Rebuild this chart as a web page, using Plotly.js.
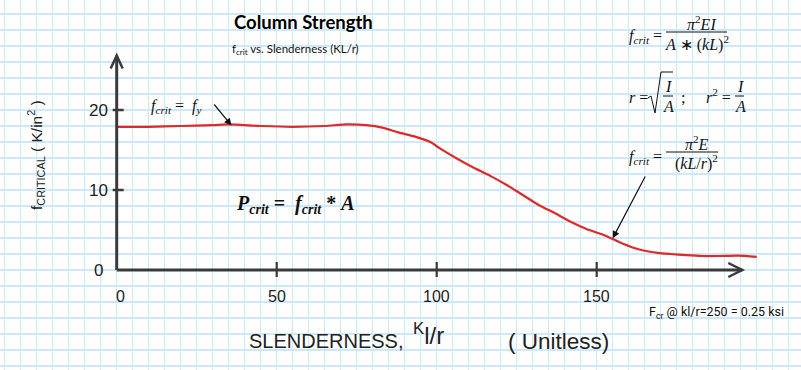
<!DOCTYPE html>
<html><head><meta charset="utf-8">
<script src="https://cdn.plot.ly/plotly-3.0.1.min.js"></script>
<style>html,body{margin:0;padding:0;background:#fff}</style>
</head><body><div id="chart" style="width:801px;height:370px"></div>
<script>
// ---- data ----
const slenderness = [0,10,20,30,35,45,55,65,72,78,83,88,93,98,101,106,111,117,122,126,132,137,142,147,152,157,161,165,169,173,178,183,188,194,200];
const fCrit = [17.9,17.9,18.0,18.1,18.2,18.0,17.9,18.0,18.2,18.1,17.8,17.2,16.7,16.0,15.2,14.0,12.9,11.7,10.6,9.6,8.1,7.1,6.0,5.1,4.4,3.5,2.85,2.4,2.15,2.0,1.85,1.75,1.75,1.8,1.65];
const xTickVals = [50,100,150];
const xLabelVals = [0,50,100,150];
const xLabelText = ['0','50','100','150'];
const yTickVals = [10,20];
const yLabelVals = [0,10,20];
const yLabelText = ['0','10','20'];
const xAxisEnd = 195.5;
const yAxisEnd = 26.8;

// ---- geometry ----
const W = 801, H = 370;
const X0PX = 116.7, Y0PX = 270, SX = 3.2, SY = 8;
const xRange = [-X0PX/SX, (W-X0PX)/SX];
const yRange = [(Y0PX-H)/SY, Y0PX/SY];
const dx = px => (px - X0PX)/SX;
const dy = py => (Y0PX - py)/SY;
const pxp = px => px/W;
const pyp = py => 1 - py/H;

const axisColor = '#3a3a3a';
const hand = 'Liberation Sans, Arial, sans-serif';
const serif = 'Liberation Serif, Times New Roman, serif';

const shapes = [];
// hand-drawn axes
shapes.push({type:'line', xref:'x', yref:'y', x0:0, y0:0, x1:0, y1:yAxisEnd, line:{color:axisColor, width:3}});
shapes.push({type:'line', xref:'x', yref:'y', x0:0, y0:0, x1:xAxisEnd, y1:0, line:{color:axisColor, width:3}});
shapes.push({type:'path', xref:'x', yref:'y',
  path:`M ${-6/SX},${yAxisEnd-13/SY} L 0,${yAxisEnd} L ${6/SX},${yAxisEnd-13/SY}`, line:{color:axisColor, width:2.5}});
shapes.push({type:'path', xref:'x', yref:'y',
  path:`M ${xAxisEnd-14/SX},${7/SY} L ${xAxisEnd},0 L ${xAxisEnd-14/SX},${-7/SY}`, line:{color:axisColor, width:2.5}});
yTickVals.forEach(v => shapes.push({type:'line', xref:'x', yref:'y', x0:-4/SX, x1:7/SX, y0:v, y1:v, line:{color:axisColor, width:2.5}}));
xTickVals.forEach(v => shapes.push({type:'line', xref:'x', yref:'y', x0:v, x1:v, y0:-7/SY, y1:8/SY, line:{color:axisColor, width:2.2}}));

// fraction bars and radical for the formulas
const pline = (x0,y0,x1,y1) => shapes.push({type:'line', xref:'paper', yref:'paper', x0:pxp(x0), y0:pyp(y0), x1:pxp(x1), y1:pyp(y1), line:{color:'#111', width:1}});
pline(666,32,727,32);
pline(663,96,673,96);
pline(735,96,744,96);
pline(666,152,718,152);
shapes.push({type:'path', xref:'paper', yref:'paper',
  path:`M ${pxp(648)},${pyp(98)} L ${pxp(651)},${pyp(96)} L ${pxp(655)},${pyp(113)} L ${pxp(661)},${pyp(72)} L ${pxp(673)},${pyp(72)}`,
  line:{color:'#111', width:1}});

const ann = [];
const P = (px,py,text,font,extra) => ann.push(Object.assign({xref:'paper', yref:'paper', x:pxp(px), y:pyp(py), text:text, showarrow:false, xanchor:'center', yanchor:'middle', font:font}, extra||{}));

// axis tick labels
yLabelVals.forEach((v,i) => ann.push({xref:'x', yref:'y', x:dx(98), y:v, text:yLabelText[i], showarrow:false, xanchor:'center', yanchor:'middle', font:{family:hand, size:17, color:'#222'}}));
xLabelVals.forEach((v,i) => ann.push({xref:'x', yref:'y', x:v+(i===0?1.2:0), y:dy(296), text:xLabelText[i], showarrow:false, xanchor:'center', yanchor:'middle', font:{family:hand, size:16, color:'#222'}}));

// titles
P(303,22,'<b>Column Strength</b>',{family:'Lato, sans-serif', size:18.5, color:'#000'});
P(295,50,'f<sub>crit</sub> vs. Slenderness (KL/r)',{family:'Lato, sans-serif', size:11.5, color:'#111'});
// axis titles
P(36,155,'f<sub>CRITICAL</sub> ( K/in<sup>2</sup> )',{family:hand, size:15.5, color:'#222'},{textangle:-90});
P(326,341,'SLENDERNESS,',{family:hand, size:20, color:'#222'});
P(428,334,'<sup>K</sup>l/r',{family:hand, size:24, color:'#222'});
P(558,341,'( Unitless)',{family:hand, size:22.5, color:'#222'});

// formulas
const mf = {family:serif, size:16, color:'#111'};
P(176,107,'<i>f<sub>crit</sub></i> =  <i>f<sub>y</sub></i>',mf);
P(295,204,'<b><i>P<sub>crit</sub></i> = <i> f<sub>crit</sub></i> * <i>A</i></b>',{family:serif, size:20, color:'#111'});
P(645,37,'<i>f<sub>crit</sub></i> =',mf);
P(701,23,'<i>π</i><sup>2</sup><i>EI</i>',mf);
P(697,43,'<i>A</i> ∗ (<i>kL</i>)<sup>2</sup>',mf);
P(638,97,'<i>r</i> =',mf);
P(668,86,'<i>I</i>',mf);
P(668,107,'<i>A</i>',mf);
P(683,98,';',mf);
P(718,96,'<i>r</i><sup>2</sup> =',mf);
P(740,86,'<i>I</i>',mf);
P(740,107,'<i>A</i>',mf);
P(645,157,'<i>f<sub>crit</sub></i> =',mf);
P(697,143,'<i>π</i><sup>2</sup><i>E</i>',mf);
P(696,163,'(<i>kL</i>/<i>r</i>)<sup>2</sup>',mf);
P(716,312,'F<sub>cr</sub> @ kl/r=250 = 0.25 ksi',{family:'Roboto, sans-serif', size:12.5, color:'#111'});

// pointer arrows
ann.push({xref:'x', yref:'y', axref:'x', ayref:'y', x:dx(231.5), y:dy(125.5), ax:dx(213), ay:dy(103), text:'', showarrow:true, arrowhead:2, arrowsize:1.2, arrowwidth:1.2, arrowcolor:'#111'});
ann.push({xref:'x', yref:'y', axref:'x', ayref:'y', x:dx(612.7), y:dy(238.3), ax:dx(646), ay:dy(175), text:'', showarrow:true, arrowhead:2, arrowsize:1.2, arrowwidth:1.2, arrowcolor:'#111'});

const trace = {x:slenderness, y:fCrit, type:'scatter', mode:'lines', line:{color:'#dd2a2a', width:2.2, shape:'spline', smoothing:0.7}, hoverinfo:'skip'};

const axisCommon = {showgrid:true, gridcolor:'#cde8f6', gridwidth:1.4, zeroline:false, showticklabels:false, ticks:'', showline:false, fixedrange:true};
const layout = {
  width:W, height:H, autosize:false,
  margin:{l:0, r:0, t:0, b:0, pad:0},
  paper_bgcolor:'#ffffff', plot_bgcolor:'#ffffff',
  showlegend:false,
  xaxis:Object.assign({range:xRange, tick0:0, dtick:5}, axisCommon),
  yaxis:Object.assign({range:yRange, tick0:0, dtick:2}, axisCommon),
  shapes:shapes, annotations:ann
};
Plotly.newPlot('chart',[trace],layout,{displayModeBar:false, staticPlot:true});
</script></body></html>
